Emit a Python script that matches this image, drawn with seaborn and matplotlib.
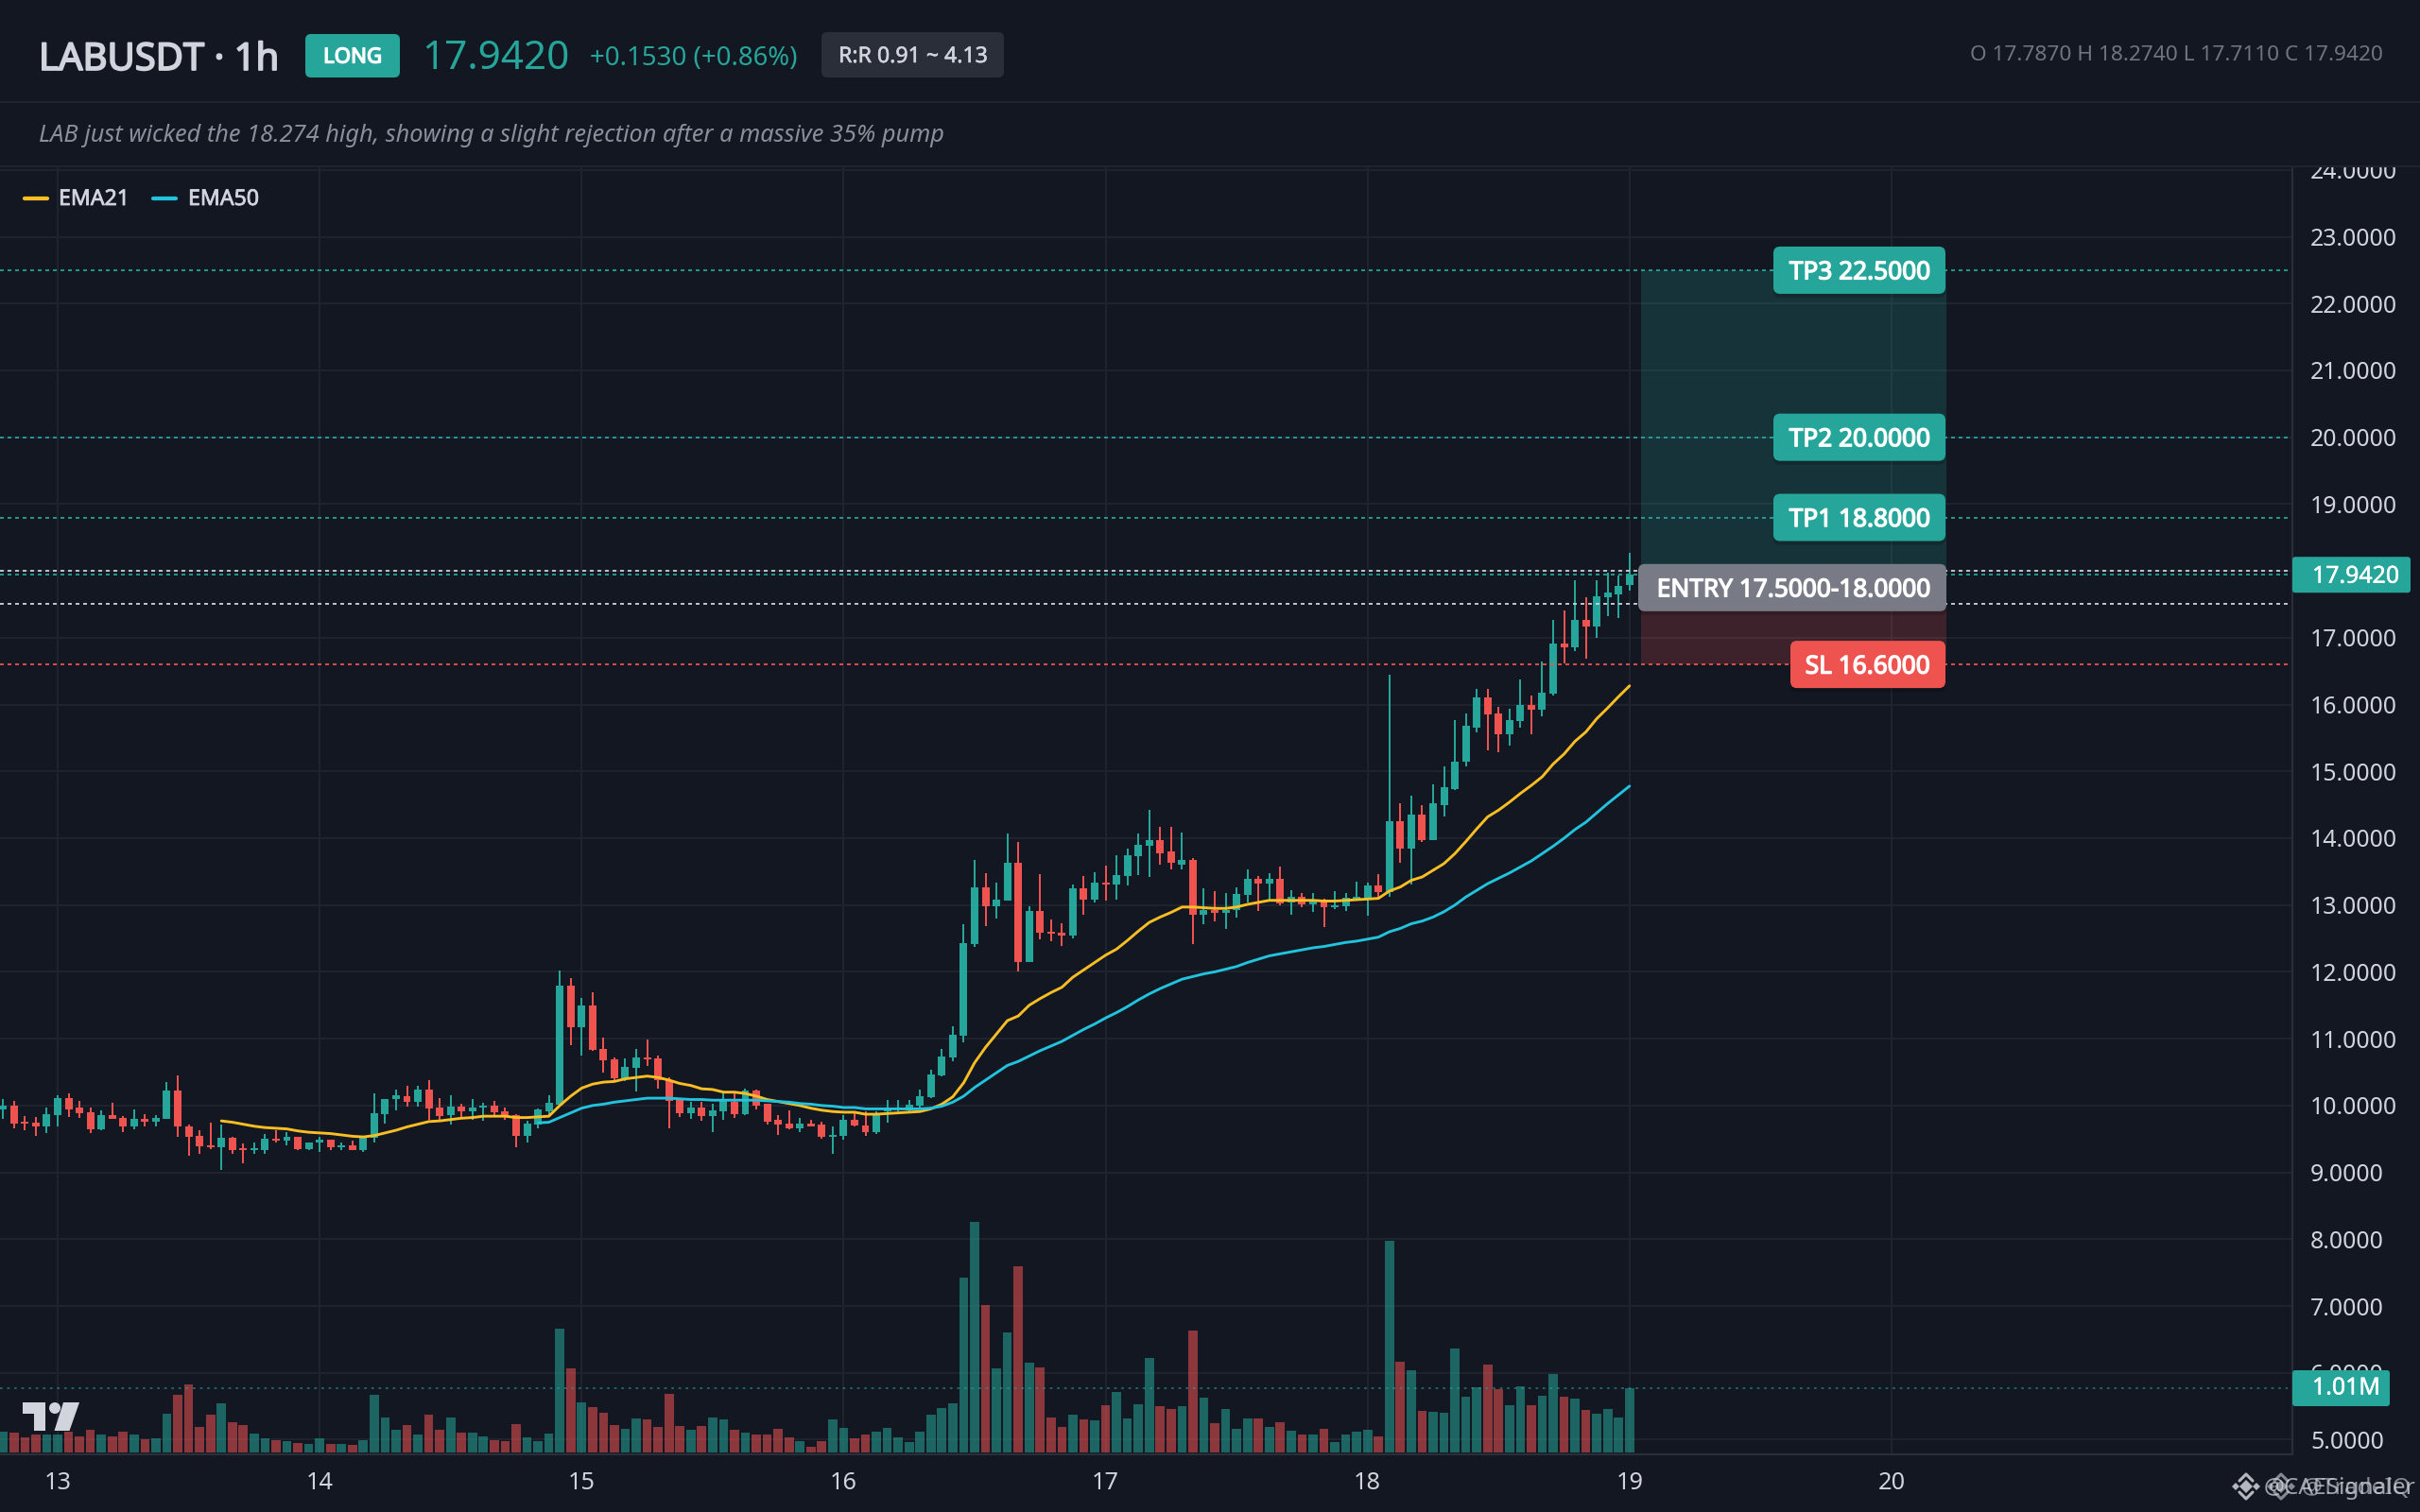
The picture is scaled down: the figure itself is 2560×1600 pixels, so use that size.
import numpy as np
import pandas as pd
import matplotlib
matplotlib.use('Agg')
import matplotlib.pyplot as plt
import matplotlib.patheffects as pe
import seaborn as sns
from matplotlib.patches import FancyBboxPatch, Polygon, Ellipse

# hourly candles
opens = [9.94,10.00,9.76,9.75,9.68,9.86,10.11,9.97,9.90,9.65,
         9.86,9.82,9.68,9.80,9.76,9.80,10.23,9.69,9.55,9.41,
         9.38,9.52,9.36,9.33,9.34,9.51,9.48,9.53,9.35,9.44,
         9.49,9.37,9.40,9.34,9.52,9.87,10.09,10.14,10.06,10.24,
         9.97,9.86,9.99,9.92,9.97,10.00,9.92,9.86,9.55,9.72,
         9.92,10.01,11.79,11.17,11.50,10.85,10.69,10.41,10.56,10.72,
         10.71,10.38,10.08,9.89,9.97,9.84,9.92,10.06,9.87,10.23,
         10.03,9.78,9.73,9.66,9.73,9.71,9.53,9.55,9.79,9.70,
         9.60,9.91,9.94,9.93,10.00,10.13,10.45,10.72,11.05,12.42,
         13.26,12.98,13.06,13.63,12.15,12.91,12.60,12.58,12.54,13.25,
         13.08,13.33,13.30,13.43,13.73,13.88,13.97,13.80,13.61,13.67,
         12.85,12.92,12.88,12.92,13.15,13.39,13.32,13.39,13.04,13.13,
         13.01,13.06,12.97,12.98,13.09,13.11,13.29,13.20,14.26,13.84,
         14.35,13.97,14.50,14.74,15.14,15.66,16.11,15.86,15.55,15.76,
         16.00,15.93,16.16,16.92,16.86,17.27,17.17,17.61,17.65,17.787]
highs = [10.10,10.07,9.84,9.83,9.97,10.16,10.18,10.07,9.97,9.93,
         10.04,9.84,9.94,9.87,9.86,10.35,10.45,9.71,9.63,9.75,
         9.71,9.53,9.43,9.45,9.57,9.63,9.60,9.53,9.45,9.53,
         9.49,9.44,9.47,9.53,10.18,10.10,10.24,10.30,10.30,10.38,
         10.11,10.16,10.03,10.09,10.04,10.07,9.97,9.87,9.77,9.96,
         10.16,12.02,11.91,11.61,11.69,11.02,10.72,10.71,10.85,10.99,
         10.75,10.42,10.08,10.06,10.06,10.03,10.18,10.18,10.25,10.24,
         10.03,9.86,9.93,9.82,9.79,9.76,9.69,9.86,9.88,9.91,
         9.92,10.08,10.08,10.08,10.24,10.53,10.84,11.19,12.71,13.68,
         13.47,13.34,14.07,13.94,12.98,13.46,12.78,12.73,13.30,13.43,
         13.49,13.59,13.74,13.84,14.07,14.42,14.17,14.17,14.08,13.70,
         13.25,13.21,13.18,13.26,13.54,13.43,13.47,13.57,13.22,13.18,
         13.18,13.09,13.21,13.18,13.35,13.33,13.46,16.44,14.53,14.63,
         14.50,14.80,15.08,15.77,15.86,16.23,16.24,15.96,15.94,16.37,
         16.13,16.64,17.27,17.41,17.86,17.61,17.86,17.98,17.93,18.274]
lows = [9.80,9.66,9.63,9.55,9.59,9.68,9.83,9.82,9.59,9.63,
        9.80,9.60,9.65,9.68,9.68,9.80,9.53,9.25,9.27,9.35,
        9.04,9.28,9.14,9.27,9.28,9.44,9.41,9.34,9.34,9.30,
        9.33,9.33,9.33,9.31,9.45,9.73,9.93,9.99,9.99,9.79,
        9.79,9.72,9.83,9.79,9.77,9.86,9.79,9.38,9.45,9.66,
        9.83,10.00,10.90,10.75,10.82,10.49,10.37,10.37,10.21,10.59,
        10.25,9.66,9.83,9.80,9.77,9.60,9.79,9.82,9.86,9.94,
        9.72,9.56,9.65,9.60,9.68,9.51,9.27,9.49,9.68,9.55,
        9.58,9.75,9.91,9.92,9.94,10.11,10.43,10.66,10.95,12.37,
        12.68,12.80,13.06,12.01,12.15,12.49,12.46,12.39,12.50,12.85,
        13.04,13.06,13.08,13.29,13.45,13.42,13.61,13.53,13.53,12.41,
        12.72,12.75,12.64,12.81,13.04,12.91,13.08,13.00,12.85,12.97,
        12.90,12.67,12.94,12.91,13.08,12.84,13.11,13.13,13.63,13.30,
        13.95,13.97,14.32,14.72,15.08,15.59,15.32,15.29,15.39,15.66,
        15.56,15.82,16.14,16.62,16.80,16.68,17.00,17.33,17.30,17.711]
closes = [10.00,9.73,9.73,9.68,9.87,10.11,9.94,9.89,9.65,9.86,
          9.80,9.68,9.80,9.76,9.82,10.23,9.69,9.53,9.39,9.38,
          9.52,9.34,9.33,9.36,9.51,9.48,9.53,9.35,9.45,9.49,
          9.37,9.40,9.34,9.52,9.89,10.10,10.16,10.06,10.24,9.96,
          9.84,9.99,9.92,9.97,10.00,9.90,9.86,9.55,9.73,9.94,
          10.04,11.79,11.17,11.50,10.83,10.68,10.41,10.58,10.72,10.69,
          10.38,10.07,9.89,9.97,9.84,9.93,10.08,9.87,10.23,10.00,
          9.76,9.72,9.66,9.73,9.69,9.53,9.56,9.79,9.70,9.60,
          9.88,9.94,9.95,10.01,10.14,10.46,10.73,11.06,12.43,13.26,
          12.98,13.08,13.63,12.15,12.91,12.58,12.57,12.54,13.25,13.08,
          13.33,13.30,13.45,13.74,13.90,13.97,13.78,13.63,13.67,12.85,
          12.92,12.88,12.92,13.16,13.39,13.32,13.39,13.02,13.13,13.01,
          13.06,12.97,12.99,13.11,13.12,13.29,13.19,14.25,13.84,14.35,
          13.97,14.52,14.76,15.15,15.68,16.11,15.85,15.55,15.77,16.00,
          15.93,16.18,16.92,16.86,17.27,17.17,17.62,17.67,17.77,17.942]
# volume in millions
volumes = [.327,.312,.238,.282,.282,.282,.327,.252,.356,.282,
           .252,.327,.282,.208,.223,.609,.906,1.069,.401,.594,
           .772,.475,.431,.297,.223,.193,.178,.149,.134,.223,
           .134,.134,.119,.193,.906,.550,.356,.431,.282,.594,
           .356,.550,.312,.312,.252,.193,.178,.446,.238,.178,
           .297,1.946,1.322,.787,.713,.624,.431,.371,.535,.520,
           .401,.921,.416,.356,.416,.550,.520,.356,.312,.282,
           .282,.371,.238,.178,.089,.178,.520,.386,.223,.282,
           .327,.386,.238,.163,.327,.594,.698,.772,2.748,3.624,
           2.317,1.322,1.886,2.926,1.411,1.337,.550,.401,.594,.520,
           .505,.743,.950,.535,.757,1.485,.728,.683,.728,1.916,
           .861,.460,.683,.371,.535,.535,.401,.475,.342,.282,
           .282,.371,.163,.282,.327,.356,.252,3.327,1.426,1.292,
           .653,.639,.624,1.634,.876,1.025,1.381,.995,.743,1.040,
           .743,.891,1.233,.876,.847,.668,.609,.683,.550,1.01]
# EMA21 starts at candle 20, EMA50 at candle 49
ema21 = [9.77,9.75,9.72,9.69,9.67,9.66,9.65,9.62,9.60,9.59,
         9.58,9.56,9.54,9.53,9.55,9.59,9.63,9.68,9.72,9.76,
         9.77,9.79,9.81,9.82,9.84,9.84,9.84,9.82,9.82,9.83,
         9.84,10.00,10.14,10.26,10.32,10.35,10.36,10.40,10.42,10.44,
         10.42,10.38,10.33,10.30,10.25,10.24,10.20,10.20,10.18,10.14,
         10.09,10.06,10.03,10.00,9.96,9.93,9.91,9.90,9.90,9.87,
         9.87,9.88,9.89,9.90,9.91,9.95,10.02,10.13,10.34,10.64,
         10.87,11.07,11.27,11.34,11.50,11.60,11.69,11.77,11.92,12.03,
         12.14,12.25,12.34,12.47,12.61,12.74,12.82,12.89,12.97,12.97,
         12.96,12.95,12.95,12.97,13.01,13.04,13.07,13.07,13.07,13.07,
         13.07,13.06,13.06,13.07,13.08,13.09,13.10,13.21,13.27,13.37,
         13.42,13.52,13.62,13.77,13.95,14.14,14.32,14.42,14.54,14.67,
         14.79,14.92,15.11,15.26,15.45,15.59,15.79,15.95,16.12,16.28]
ema50 = [9.74,9.75,9.82,9.89,9.96,10.00,10.02,10.05,10.07,10.09,10.11,
         10.11,10.11,10.10,10.09,10.09,10.08,10.08,10.08,10.08,10.08,
         10.07,10.06,10.05,10.03,10.02,10.00,9.99,9.97,9.97,9.95,
         9.95,9.95,9.95,9.95,9.95,9.96,9.99,10.05,10.14,10.27,
         10.38,10.49,10.60,10.66,10.74,10.82,10.89,10.96,11.05,11.14,
         11.22,11.31,11.39,11.48,11.58,11.67,11.75,11.82,11.89,11.93,
         11.97,12.00,12.04,12.08,12.14,12.19,12.24,12.27,12.30,12.33,
         12.36,12.38,12.41,12.44,12.46,12.49,12.52,12.60,12.65,12.72,
         12.76,12.82,12.90,13.00,13.12,13.22,13.32,13.40,13.48,13.57,
         13.66,13.77,13.88,14.00,14.13,14.24,14.38,14.52,14.65,14.78]

day_labels = ['13','14','15','16','17','18','19','20']
price_ticks = list(range(5, 25))
tp_levels = [22.5, 20.0, 18.8]
tp_names = ['TP3 22.5000', 'TP2 20.0000', 'TP1 18.8000']
entry_low, entry_high = 17.5, 18.0
stop_loss = 16.6
last_price = 17.942
last_volume = 1.01

BG = '#131722'
GRID = '#1f2330'
BORDER = '#2a2e39'
TEXT = '#d1d4dc'
UP = '#26a69a'
DOWN = '#ef5350'
GREY = '#787b86'

sns.set_theme(style='dark', rc={
    'figure.facecolor': BG, 'axes.facecolor': BG, 'savefig.facecolor': BG,
    'lines.scale_dashes': False,
})
plt.rcParams['font.family'] = ['Noto Sans', 'DejaVu Sans']

W, H = 2560, 1600
fig = plt.figure(figsize=(16, 10), dpi=160)
rect = [0, (H - 1539) / H, 2425 / W, (1539 - 177) / H]
ax = fig.add_axes(rect)

candles = pd.DataFrame({'open': opens, 'high': highs, 'low': lows, 'close': closes, 'volume': volumes})
candles['i'] = np.arange(len(candles))
candles['side'] = np.where(candles['close'] >= candles['open'], 'up', 'down')
colors = candles['side'].map({'up': UP, 'down': DOWN})

xlim = (-0.282, 209.72)
ylim = (4.78, 24.04)

# wicks and bodies
ax.vlines(candles['i'], candles['low'], candles['high'], colors=colors, linewidth=0.9, zorder=3)
ax.bar(candles['i'], (candles['close'] - candles['open']).abs().clip(lower=0.025),
       bottom=candles[['open', 'close']].min(axis=1), width=0.69, color=colors, linewidth=0, zorder=4)

sns.lineplot(x=np.arange(20, 150), y=ema21, color='#fbbf24', linewidth=1.3, ax=ax, zorder=5, legend=False)
sns.lineplot(x=np.arange(49, 150), y=ema50, color='#22c3dd', linewidth=1.3, ax=ax, zorder=5, legend=False)

# trade zones
ax.fill_between([150.06, 178], entry_high, tp_levels[0], color=UP, alpha=0.2, linewidth=0, zorder=1)
ax.fill_between([150.06, 178], stop_loss, entry_low, color=DOWN, alpha=0.2, linewidth=0, zorder=1)

dash = (0, (1.8, 1.8))
for lvl in tp_levels + [last_price]:
    ax.hlines(lvl, xlim[0], 209.3, color=UP, linewidth=0.8, linestyle=dash, zorder=6)
for lvl in [entry_low, entry_high]:
    ax.hlines(lvl, xlim[0], 209.3, color=TEXT, linewidth=0.8, linestyle=dash, zorder=6)
ax.hlines(stop_loss, xlim[0], 209.3, color=DOWN, linewidth=0.8, linestyle=dash, zorder=6)

ax.set_xlim(xlim)
ax.set_ylim(ylim)
ax.set_xticks(np.arange(5, 5 + 24 * len(day_labels), 24))
ax.set_xticklabels(day_labels)
ax.set_yticks(price_ticks)
ax.set_yticklabels([f'{v:.4f}' for v in price_ticks])
ax.set_xlabel('')
ax.set_ylabel('')
ax.yaxis.tick_right()
ax.tick_params(axis='y', length=0, pad=8.5, labelsize=11.2, labelcolor=TEXT)
ax.tick_params(axis='x', length=0, pad=8, labelsize=11.4, labelcolor=TEXT)
ax.grid(True, color=GRID, linewidth=0.9, zorder=0)
ax.set_axisbelow(True)
for side in ['top', 'left']:
    ax.spines[side].set_visible(False)
for side in ['right', 'bottom']:
    ax.spines[side].set_color(BORDER)
    ax.spines[side].set_linewidth(1.0)

# volume panel on a scale of its own, sharing the candle x positions
ax_vol = fig.add_axes(rect, sharex=None)
ax_vol.patch.set_visible(False)
sns.barplot(data=candles, x='i', y='volume', hue='side', palette={'up': UP, 'down': DOWN},
            hue_order=['up', 'down'], native_scale=True, dodge=False, width=0.84,
            saturation=1, alpha=0.55, linewidth=0, legend=False, ax=ax_vol)
ax_vol.hlines(last_volume, xlim[0], 209.3, color=UP, alpha=0.6, linewidth=0.8, linestyle=(0, (1.2, 2.2)))
ax_vol.set_xlim(xlim)
ax_vol.set_ylim(-0.03, 20.2)
ax_vol.axis('off')

# header, labels and badges live on a pixel overlay
ui = fig.add_axes([0, 0, 1, 1], zorder=10)
ui.set_xlim(0, W)
ui.set_ylim(H, 0)
ui.axis('off')
ui.patch.set_visible(False)

ui.fill_between([0, W], 0, 176, color=BG, linewidth=0, zorder=1)
for y in [108, 176]:
    ui.plot([0, W], [y, y], color=GRID, linewidth=1.0, zorder=2)


def box(x0, x1, y0, y1, color, radius=6, shadow=False):
    if shadow:
        ui.add_patch(FancyBboxPatch((x0, y0 + 4), x1 - x0, y1 - y0, boxstyle=f'round,pad=0,rounding_size={radius}',
                                    facecolor='black', alpha=0.18, linewidth=0, zorder=3))
    ui.add_patch(FancyBboxPatch((x0, y0), x1 - x0, y1 - y0, boxstyle=f'round,pad=0,rounding_size={radius}',
                                facecolor=color, linewidth=0, zorder=4))


# Noto Sans only comes in regular here, a thin stroke thickens it without changing the widths
def label(x, y, s, size, color=TEXT, ha='left', stroke=0, **kw):
    t = ui.text(x, y + 3, s, fontsize=size, color=color, ha=ha, va='center', zorder=5, **kw)
    if stroke:
        t.set_path_effects([pe.withStroke(linewidth=stroke, foreground=color)])


def price_y(p):
    return H - ax.transData.transform((0, p))[1]


label(41, 61, 'LABUSDT · 1h', 18, stroke=0.8)
box(323, 423, 36, 82, UP)
label(373, 58, 'LONG', 10, color='white', ha='center', stroke=0.6)
label(446, 59, '17.9420', 19, color=UP)
label(624, 59, '+0.1530 (+0.86%)', 12.4, color=UP)
box(869, 1062, 34, 82, BORDER)
label(887, 57, 'R:R 0.91 ~ 4.13', 10.4, stroke=0.25)
label(2521, 56, 'O 17.7870 H 18.2740 L 17.7110 C 17.9420', 10.2, color='#70747f', ha='right')
label(41, 140, 'LAB just wicked the 18.274 high, showing a slight rejection after a massive 35% pump', 11.4,
      color='#8b8f9c', style='italic')

# legend
ui.plot([26, 50], [210, 210], color='#fbbf24', linewidth=1.9, solid_capstyle='round', zorder=4)
label(62, 208, 'EMA21', 10.4, stroke=0.35)
ui.plot([162, 186], [210, 210], color='#22c3dd', linewidth=1.9, solid_capstyle='round', zorder=4)
label(199, 208, 'EMA50', 10.4, stroke=0.35)

# price tags
for name, lvl in zip(tp_names, tp_levels):
    yc = price_y(lvl)
    box(1876, 2058, yc - 25, yc + 25, UP, radius=7, shadow=True)
    label(2042, yc, name, 11.8, color='white', ha='right', stroke=0.6)
yc = price_y((entry_low + entry_high) / 2)
box(1733, 2059, yc - 25, yc + 25, GREY, radius=7, shadow=True)
label(2042, yc, 'ENTRY 17.5000-18.0000', 11.8, color='white', ha='right', stroke=0.6)
yc = price_y(stop_loss)
box(1894, 2058, yc - 25, yc + 25, DOWN, radius=7, shadow=True)
label(2042, yc, 'SL 16.6000', 11.8, color='white', ha='right', stroke=0.6)

# axis tags
yc = price_y(last_price)
box(2425, 2550, yc - 19, yc + 19, UP, radius=3)
label(2446, yc - 1, '17.9420', 11.2, color='white', stroke=0.2)
box(2425, 2528, 1450, 1488, UP, radius=3)
label(2446, 1466, '1.01M', 11.2, color='white', stroke=0.2)

# TradingView mark
ui.add_patch(Polygon([(24, 1484), (48, 1484), (48, 1514), (36, 1514), (36, 1496), (24, 1496)], facecolor=TEXT, linewidth=0, zorder=4))
ui.add_patch(Ellipse((58, 1490), 12, 12, facecolor=TEXT, linewidth=0, zorder=4))
ui.add_patch(Polygon([(67, 1484), (84, 1484), (73.5, 1514), (57.5, 1514)], facecolor=TEXT, linewidth=0, zorder=4))


def exchange_mark(cx, cy, alpha):
    for dx, dy, s in [(0, 0, 4.5), (-11, 0, 2.6), (11, 0, 2.6)]:
        ui.plot(cx + dx, cy + dy, marker='D', markersize=s, color=TEXT, alpha=alpha, linewidth=0, markeredgewidth=0, zorder=4)
    ui.plot([cx - 7, cx, cx + 7], [cy - 6, cy - 13, cy - 6], color=TEXT, alpha=alpha, linewidth=1.4, zorder=4)
    ui.plot([cx - 7, cx, cx + 7], [cy + 6, cy + 13, cy + 6], color=TEXT, alpha=alpha, linewidth=1.4, zorder=4)


exchange_mark(2376, 1573, 0.85)
exchange_mark(2413, 1573, 0.6)
ui.text(2395, 1575, '@CAESignaler', fontsize=11, color=TEXT, alpha=0.75, ha='left', va='center', zorder=5)
ui.text(2550, 1575, '@TradeIQ', fontsize=11, color=TEXT, alpha=0.6, ha='right', va='center', zorder=5)

fig.savefig('out.png', dpi=160)
